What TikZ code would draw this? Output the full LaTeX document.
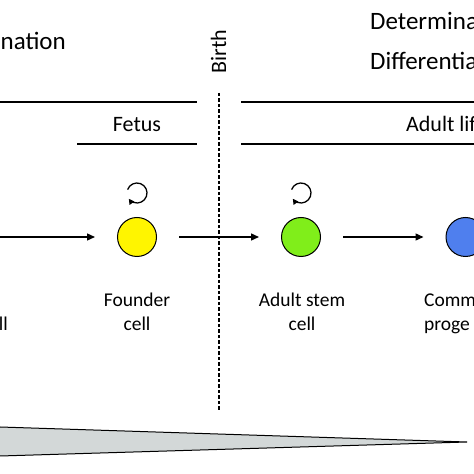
\documentclass[tikz,border=0pt]{standalone}
\usepackage{fontspec}
\setmainfont{Carlito}
\usetikzlibrary{arrows.meta}
\definecolor{cyellow}{HTML}{FFF500}
\definecolor{cgreen}{HTML}{80EE1A}
\definecolor{cblue}{HTML}{4F7FEE}
\definecolor{cgrey}{HTML}{D3D8D8}
\tikzset{
  lbl/.style={font=\fontsize{19.5}{24}\selectfont, inner sep=0pt, align=center},
  head/.style={font=\fontsize{25}{30}\selectfont, inner sep=0pt},
  period/.style={font=\fontsize{22}{26}\selectfont, inner sep=0pt},
  cellnode/.style={circle, draw=black, line width=1pt, minimum size=39pt, inner sep=0pt},
  bar/.style={line width=2.4pt},
  flow/.style={line width=1.4pt, -{Triangle[length=8pt,width=7pt]}, shorten <=22pt, shorten >=22pt},
  selfrenew/.style={line width=1.3pt, -{Triangle[length=5.5pt,width=5.5pt]}},
}
\begin{document}
\begin{tikzpicture}[x=1pt,y=1pt]
\useasboundingbox (0,0) rectangle (474,474);
\clip (0,0) rectangle (474,474);
% header texts
\node[head, anchor=base east] (t1) at (66,424) {nation};
\node[head, anchor=base west] (t2) at (370,444) {Determina};
\node[head, anchor=base west] (t3) at (370,404) {Differentia};
\node[period, rotate=90] (birth) at (218.5,422.5) {Birth};
% period bars
\draw[bar] (0,372) -- (197,372);
\draw[bar] (77,330) -- (197,330);
\draw[bar] (241,372) -- (474,372);
\draw[bar] (241,330) -- (474,330);
\node[period, anchor=base] (fetus) at (137,342.5) {Fetus};
\node[period, anchor=base west] (adult) at (406,342.5) {Adult lif};
% birth line
\coordinate (btop) at (219,381);
\coordinate (bbot) at (219,64);
\draw[line width=1.3pt, dash pattern=on 3.5pt off 2pt] (btop) -- (bbot);
% cells
\coordinate (c0) at (-27,237);
\node[cellnode, fill=cyellow] (c1) at (137,237) {};
\node[cellnode, fill=cgreen] (c2) at (301,237) {};
\node[cellnode, fill=cblue] (c3) at (465.5,237) {};
\draw[flow] (c0) -- (c1);
\draw[flow] (c1) -- (c2);
\draw[flow] (c2) -- (c3);
% self renewal
\draw[selfrenew] (c1.center) ++(0,44) ++(160:10) arc[start angle=160, end angle=-145, radius=10];
\draw[selfrenew] (c2.center) ++(0,44) ++(160:10) arc[start angle=160, end angle=-145, radius=10];
% labels
\node[lbl, anchor=base east] (l0) at (8,143) {ll};
\node[lbl, anchor=base] (l1) at (137,143) {Founder\\cell};
\node[lbl, anchor=base] (l2) at (302,143) {Adult stem\\cell};
\node[lbl, anchor=base west, align=left] (l3) at (424,143) {Comm\\proge};
% gradient wedge
\draw[line width=1pt, fill=cgrey] (0,47) -- (467,32) -- (0,18);
\end{tikzpicture}
\end{document}
